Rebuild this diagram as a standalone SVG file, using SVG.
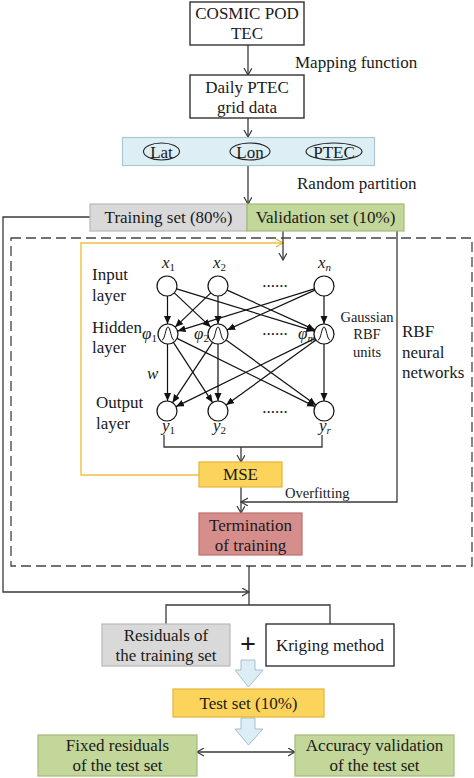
<svg xmlns="http://www.w3.org/2000/svg" width="474" height="778" viewBox="0 0 474 778">
<style>
text{font-family:"Liberation Serif","Times New Roman",serif;font-size:17px;fill:#1a1a1a}
.c{text-anchor:middle}
.it{font-style:italic}
.sub{font-size:11px;font-style:normal}
.subi{font-size:11px;font-style:italic}
.sm{font-size:14.5px}
.box{stroke:#333;stroke-width:1.4;fill:#fff}
.grey{fill:#d9d9d9;stroke:#b8b8b8;stroke-width:1.2}
.green{fill:#c4d79b;stroke:#a3b97a;stroke-width:1.2}
.yellow{fill:#fcd45c;stroke:#e3b53a;stroke-width:1.2}
.red{fill:#d68e8d;stroke:#bd6f6e;stroke-width:1.2}
.blue{fill:#ddeef5;stroke:#a9c8d6;stroke-width:1.2}
.ln{fill:none;stroke:#3a3a3a;stroke-width:1.3}
.fl{fill:none;stroke:#3a3a3a;stroke-width:1.3;marker-end:url(#open)}
.nn{fill:none;stroke:#111;stroke-width:1.2;marker-end:url(#solid)}
.node{fill:#fff;stroke:#111;stroke-width:1.2}
.barrow{fill:#dcedf5;stroke:#a7bfcc;stroke-width:1}
</style>
<defs>
<marker id="open" markerUnits="userSpaceOnUse" markerWidth="10" markerHeight="10" refX="7" refY="4" orient="auto">
<path d="M0,0 L7,4 L0,8" fill="none" stroke="#3a3a3a" stroke-width="1.2"/>
</marker>
<marker id="openS" markerUnits="userSpaceOnUse" markerWidth="10" markerHeight="10" refX="0" refY="4" orient="auto">
<path d="M7,0 L0,4 L7,8" fill="none" stroke="#3a3a3a" stroke-width="1.2"/>
</marker>
<marker id="openY" markerUnits="userSpaceOnUse" markerWidth="10" markerHeight="10" refX="7" refY="4" orient="auto">
<path d="M0,0 L7,4 L0,8" fill="none" stroke="#e8b830" stroke-width="1.2"/>
</marker>
<marker id="solid" markerUnits="userSpaceOnUse" markerWidth="10" markerHeight="10" refX="8" refY="3.5" orient="auto">
<path d="M0,0 L8,3.5 L0,7 Z" fill="#111"/>
</marker>
</defs>

<rect x="11" y="238" width="461" height="328" fill="none" stroke="#444" stroke-width="1.3" stroke-dasharray="10,5"/>

<g id="connectors">
<line class="fl" x1="248" y1="45" x2="248" y2="75"/>
<line class="fl" x1="248" y1="118" x2="248" y2="137"/>
<line class="fl" x1="248" y1="166" x2="248" y2="204"/>
<path class="fl" d="M90,217 H3 V592 H249"/>
<path d="M199,475 H81 V243 H283" fill="none" stroke="#f0c040" stroke-width="1.4" marker-end="url(#openY)"/>
<line class="fl" x1="283" y1="231" x2="283" y2="260"/>
<path class="fl" d="M397,231 V502 H241"/>
<path class="ln" d="M164,435 V447 H322 V435"/>
<line class="fl" x1="241" y1="447" x2="241" y2="462"/>
<line class="fl" x1="241" y1="487" x2="241" y2="513"/>
<line class="ln" x1="249" y1="566" x2="249" y2="605"/>
<path class="ln" d="M166,624 V605 H330 V624"/>
<line class="fl" x1="197" y1="752" x2="295" y2="752" marker-start="url(#openS)"/>
<path class="barrow" d="M241,660 H255 V670 H263 L248.5,687 L235,670 H241 Z"/>
<path class="barrow" d="M241,718 H255 V729 H263 L248.5,745 L235,729 H241 Z"/>
</g>

<g id="network-edges">
<line class="nn" x1="167.5" y1="296" x2="167.5" y2="324"/>
<line class="nn" x1="174.3" y1="292.9" x2="210.7" y2="327.1"/>
<line class="nn" x1="176.6" y1="288.9" x2="314.4" y2="331.1"/>
<line class="nn" x1="210.8" y1="292.9" x2="175.2" y2="327.1"/>
<line class="nn" x1="218" y1="296" x2="218" y2="324"/>
<line class="nn" x1="227.1" y1="290.1" x2="314.9" y2="329.9"/>
<line class="nn" x1="314.4" y1="288.9" x2="177.6" y2="331.1"/>
<line class="nn" x1="314.9" y1="290.1" x2="227.1" y2="329.9"/>
<line class="nn" x1="324" y1="296" x2="324" y2="324"/>
<line class="nn" x1="167.5" y1="344" x2="167.5" y2="401"/>
<line class="nn" x1="173.4" y1="342.4" x2="212.6" y2="402.6"/>
<line class="nn" x1="177" y1="338.4" x2="315" y2="406.6"/>
<line class="nn" x1="212.5" y1="342.3" x2="172.5" y2="402.7"/>
<line class="nn" x1="218" y1="344" x2="218" y2="401"/>
<line class="nn" x1="226.1" y1="339.9" x2="315.9" y2="405.1"/>
<line class="nn" x1="315" y1="338.4" x2="176" y2="406.6"/>
<line class="nn" x1="315.9" y1="339.9" x2="226.1" y2="405.1"/>
<line class="nn" x1="324" y1="344" x2="324" y2="401"/>
</g>

<g id="cosmic"><rect class="box" x="190" y="2" width="114" height="43"/>
<text class="c" x="247" y="19">COSMIC POD</text><text class="c" x="247" y="39">TEC</text></g>
<text x="295" y="68">Mapping function</text>
<g id="daily"><rect class="box" x="190" y="75" width="114" height="43"/>
<text class="c" x="247" y="93">Daily PTEC</text><text class="c" x="247" y="113">grid data</text></g>
<g id="fields"><rect class="blue" x="122.5" y="137.5" width="252" height="28"/>
<ellipse cx="161.5" cy="151.5" rx="18" ry="8.5" fill="none" stroke="#222" stroke-width="1.1"/>
<ellipse cx="250" cy="151.5" rx="20" ry="8.5" fill="none" stroke="#222" stroke-width="1.1"/>
<ellipse cx="334" cy="151.5" rx="28" ry="8.5" fill="none" stroke="#222" stroke-width="1.1"/>
<text class="c" x="161.5" y="157.5">Lat</text><text class="c" x="250" y="157.5">Lon</text><text class="c" x="334" y="157.5">PTEC</text></g>
<text x="297" y="189">Random partition</text>
<g id="training"><rect class="grey" x="90" y="204" width="157" height="27"/>
<text class="c" x="168.5" y="223">Training set (80%)</text></g>
<g id="validation"><rect class="green" x="247" y="204" width="157" height="27"/>
<text class="c" x="325.5" y="223">Validation set (10%)</text></g>

<g id="rbf-network">
<text x="92" y="280">Input</text><text x="92" y="301">layer</text>
<text x="92" y="333">Hidden</text><text x="92" y="353">layer</text>
<text x="96" y="408">Output</text><text x="96" y="429">layer</text>
<text x="147" y="379" class="it">w</text>
<text x="162" y="268" class="it">x<tspan class="sub" dy="3">1</tspan></text>
<text x="213" y="268" class="it">x<tspan class="sub" dy="3">2</tspan></text>
<text x="318" y="268" class="it">x<tspan class="subi" dy="3">n</tspan></text>
<text class="c" x="275" y="287">......</text>
<text class="c" x="275" y="335">......</text>
<text class="c" x="275" y="413">......</text>
<circle class="node" cx="167" cy="286" r="10"/>
<circle class="node" cx="218" cy="286" r="10"/>
<circle class="node" cx="324" cy="286" r="10"/>
<circle class="node" cx="168" cy="334" r="10"/>
<circle class="node" cx="218" cy="334" r="10"/>
<circle class="node" cx="324" cy="334" r="10"/>
<g fill="none" stroke="#111" stroke-width="1">
<path d="M162,340 C165,340 165.5,327 168,327 C170.5,327 171,340 174,340"/>
<path d="M212,340 C215,340 215.5,327 218,327 C220.5,327 221,340 224,340"/>
<path d="M318,340 C321,340 321.5,327 324,327 C326.5,327 327,340 330,340"/>
</g>
<text x="142" y="339" class="it">φ<tspan class="sub" dy="3">1</tspan></text>
<text x="194" y="339" class="it">φ<tspan class="sub" dy="3">2</tspan></text>
<text x="298" y="339" class="it">φ<tspan class="subi" dy="3">m</tspan></text>
<circle class="node" cx="167" cy="411" r="10"/>
<circle class="node" cx="218" cy="411" r="10"/>
<circle class="node" cx="324" cy="411" r="10"/>
<text x="162" y="431" class="it">y<tspan class="sub" dy="3">1</tspan></text>
<text x="213" y="431" class="it">y<tspan class="sub" dy="3">2</tspan></text>
<text x="319" y="431" class="it">y<tspan class="subi" dy="3">r</tspan></text>
<text class="c sm" x="367" y="322">Gaussian</text>
<text class="c sm" x="367" y="339">RBF</text>
<text class="c sm" x="367" y="357">units</text>
<text x="402" y="337">RBF</text><text x="402" y="358">neural</text><text x="402" y="378">networks</text>
</g>

<g id="mse"><rect class="yellow" x="199" y="462" width="83" height="25"/>
<text class="c" x="240.5" y="480">MSE</text></g>
<text class="sm" x="285" y="498">Overfitting</text>
<g id="termination"><rect class="red" x="199" y="513" width="103" height="42"/>
<text class="c" x="250.5" y="531">Termination</text><text class="c" x="250.5" y="551">of training</text></g>

<g id="residuals"><rect class="grey" x="102" y="624" width="128" height="42"/>
<text class="c" x="166" y="641">Residuals of</text><text class="c" x="166" y="661">the training set</text></g>
<text class="c" x="248" y="653" style="font-size:28px;font-weight:bold">+</text>
<g id="kriging"><rect class="box" x="266" y="624" width="128" height="42"/>
<text class="c" x="330" y="651">Kriging method</text></g>
<g id="testset"><rect class="yellow" x="173" y="689" width="151" height="28"/>
<text class="c" x="248.5" y="709">Test set (10%)</text></g>
<g id="fixed"><rect class="green" x="38" y="735" width="159" height="41"/>
<text class="c" x="117.5" y="751">Fixed residuals</text><text class="c" x="117.5" y="771">of the test set</text></g>
<g id="accuracy"><rect class="green" x="295" y="735" width="159" height="41"/>
<text class="c" x="374.5" y="751">Accuracy validation</text><text class="c" x="374.5" y="771">of the test set</text></g>
</svg>
